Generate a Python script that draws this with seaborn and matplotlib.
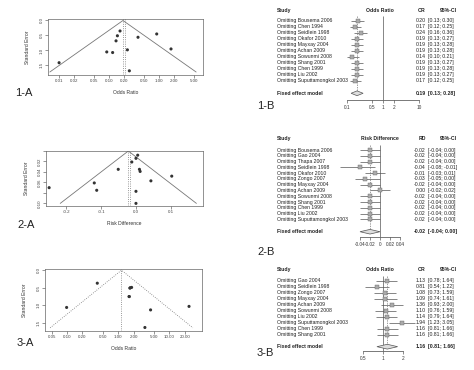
import numpy as np
import pandas as pd
import matplotlib
matplotlib.use('Agg')
import matplotlib.pyplot as plt
import matplotlib.transforms as mtrans
import seaborn as sns

sns.set_style('white')
plt.rcParams['font.family'] = ['Liberation Sans', 'DejaVu Sans']

W, H = 474, 370

# ---- funnel plot data ----
f1_or = [0.010, 0.090, 0.118, 0.138, 0.147, 0.166, 0.233, 0.255, 0.38, 0.90, 1.74]
f1_se = [1.41, 1.05, 1.07, 0.68, 0.51, 0.35, 0.98, 1.68, 0.56, 0.45, 0.95]
f1_fixed, f1_random = 0.19, 0.21

f2_rd = [-0.25, -0.12, -0.113, -0.051, -0.012, 0.0, 0.005, 0.01, 0.012, 0.043, 0.0, 0.0, 0.103]
f2_se = [0.070, 0.061, 0.075, 0.035, 0.021, 0.014, 0.008, 0.035, 0.039, 0.057, 0.077, 0.100, 0.048]
f2_fixed, f2_random = -0.022, -0.017

f3_or = [0.39, 0.098, 1.64, 1.69, 1.83, 4.3, 3.33, 24.3, 1.72, 1.64]
f3_se = [0.37, 1.06, 0.75, 0.51, 0.49, 1.13, 1.63, 1.03, 0.50, 0.75]
f3_fixed = 1.16

# ---- leave-one-out forest data ----
s1_names = ['Bousema 2006', 'Chen 1994', 'Seidlein 1998', 'Okafor 2010', 'Mayxay 2004',
            'Achan 2009', 'Sowunmi 2008', 'Shang 2001', 'Chen 1999', 'Liu 2002',
            'Suputtamongkol 2003']
s1_est = [0.20, 0.17, 0.24, 0.19, 0.19, 0.19, 0.14, 0.19, 0.19, 0.19, 0.17]
s1_lo = [0.13, 0.12, 0.16, 0.13, 0.13, 0.13, 0.10, 0.13, 0.13, 0.13, 0.12]
s1_hi = [0.30, 0.25, 0.36, 0.27, 0.28, 0.28, 0.21, 0.27, 0.28, 0.27, 0.25]
s1_fix = [0.19, 0.13, 0.28]

s2_names = ['Bousema 2006', 'Gao 2004', 'Thapa 2007', 'Seidlein 1998', 'Okafor 2010',
            'Zongo 2007', 'Mayxay 2004', 'Achan 2009', 'Sowunmi 2008', 'Shang 2001',
            'Chen 1999', 'Liu 2002', 'Suputtamongkol 2003']
s2_est = [-0.02, -0.02, -0.02, -0.04, -0.01, -0.03, -0.02, 0.00, -0.02, -0.02, -0.02, -0.02, -0.02]
s2_lo = [-0.04, -0.04, -0.04, -0.08, -0.03, -0.05, -0.04, -0.02, -0.04, -0.04, -0.04, -0.04, -0.04]
s2_hi = [0.00, 0.00, 0.00, -0.01, 0.01, 0.00, 0.00, 0.02, 0.00, 0.00, 0.00, 0.00, 0.00]
s2_fix = [-0.02, -0.04, 0.00]

s3_names = ['Gao 2004', 'Seidlein 1998', 'Zongo 2007', 'Mayxay 2004', 'Achan 2009',
            'Sowunmi 2008', 'Liu 2002', 'Suputtamongkol 2003', 'Chen 1999', 'Shang 2001']
s3_est = [1.13, 0.81, 1.08, 1.09, 1.36, 1.10, 1.14, 1.94, 1.16, 1.16]
s3_lo = [0.78, 0.54, 0.73, 0.74, 0.93, 0.76, 0.79, 1.23, 0.81, 0.81]
s3_hi = [1.64, 1.22, 1.59, 1.61, 2.00, 1.59, 1.64, 3.05, 1.66, 1.66]
s3_fix = [1.16, 0.81, 1.66]

fig = plt.figure(figsize=(W / 100, H / 100), dpi=100)


def rect(x0, y0, x1, y1):
    return [x0 / W, 1 - y1 / H, (x1 - x0) / W, (y1 - y0) / H]


def funnel(r, x, se, lines, apex, xlim, ylim, xticks, xlabs, yticks, ylabs, xlab, log, se_max, ls, ylpad):
    ax = fig.add_axes(r)
    if log:
        ax.set_xscale('log')
        lx = [apex * np.exp(-1.96 * se_max), apex, apex * np.exp(1.96 * se_max)]
    else:
        lx = [apex - 1.96 * se_max, apex, apex + 1.96 * se_max]
    ax.plot(lx, [se_max, 0, se_max], color='#777', lw=0.6, ls=ls)
    for v, st in lines:
        ax.axvline(v, color='#777', lw=0.6, ls=st)
    sns.scatterplot(x=x, y=se, s=5, color='#333', edgecolor='none', ax=ax, zorder=3)
    ax.set_xlim(xlim)
    ax.set_ylim(ylim)
    ax.set_xticks(xticks)
    ax.set_xticklabels(xlabs)
    ax.minorticks_off()
    ax.set_yticks(yticks)
    ax.set_yticklabels(ylabs, rotation=90, va='center')
    ax.tick_params(length=2, width=0.4, labelsize=3.2, pad=1.2, left=True, bottom=True, colors='#444')
    for s in ax.spines.values():
        s.set_linewidth(0.5)
        s.set_color('#666')
    ax.set_xlabel(xlab, fontsize=3.6, labelpad=4.5, color='#333')
    ax.set_ylabel('Standard Error', fontsize=3.6, labelpad=ylpad, color='#333')
    return ax


def forest(r, ylim, names, est, lo, hi, fix, fixrow, head_row, title, col, xlim, xticks, xlabs, bounds, ref, log):
    ax = fig.add_axes(r)
    if log:
        ax.set_xscale('log')
    rows = np.arange(len(names))
    ax.hlines(rows, lo, hi, color='#555', lw=0.5)
    df = pd.DataFrame({'est': est, 'row': rows})
    sns.scatterplot(data=df, x='est', y='row', marker='s', s=7, color='#aaa',
                    edgecolor='#666', linewidth=0.3, ax=ax, zorder=3)
    ax.fill([fix[1], fix[0], fix[2], fix[0]],
            [fixrow, fixrow - 0.4, fixrow, fixrow + 0.4],
            facecolor='#ddd', edgecolor='#555', lw=0.5, zorder=3)
    ax.vlines(ref, -0.8, ylim[0], color='#555', lw=0.5)
    ax.vlines(fix[0], -0.8, fixrow, color='#777', lw=0.5, ls=(0, (2, 1.5)))
    ax.set_xlim(xlim)
    ax.set_ylim(ylim)
    ax.set_xticks(xticks)
    ax.set_xticklabels(xlabs)
    ax.minorticks_off()
    ax.set_yticks([])
    ax.set_xlabel('')
    ax.set_ylabel('')
    for k in ['top', 'left', 'right']:
        ax.spines[k].set_visible(False)
    ax.spines['bottom'].set_bounds(bounds)
    ax.spines['bottom'].set_linewidth(0.5)
    ax.spines['bottom'].set_color('#444')
    ax.tick_params(axis='x', length=2, width=0.4, labelsize=3.4, pad=1.5, bottom=True, colors='#333')
    ax.patch.set_alpha(0)

    tr = mtrans.blended_transform_factory(fig.transFigure, ax.transData)
    kw = dict(transform=tr, fontsize=3.7, va='center', color='#222')
    ax.text(277 / W, head_row, 'Study', fontweight='bold', **kw)
    ax.text(380 / W, head_row, title, fontweight='bold', ha='center', **kw)
    ax.text(422 / W, head_row, col, fontweight='bold', ha='center', **kw)
    ax.text(448 / W, head_row, '95%-CI', fontweight='bold', ha='center', **kw)
    for i, nm in enumerate(names):
        ax.text(277 / W, i, 'Omitting ' + nm, **kw)
        ax.text(425.5 / W, i, '%.2f' % est[i], ha='right', **kw)
        ax.text(428.5 / W, i, '[%.2f; %.2f]' % (lo[i], hi[i]), **kw)
    ax.text(277 / W, fixrow, 'Fixed effect model', fontweight='bold', **kw)
    ax.text(425.5 / W, fixrow, '%.2f' % fix[0], ha='right', fontweight='bold', **kw)
    ax.text(428.5 / W, fixrow, '[%.2f; %.2f]' % (fix[1], fix[2]), fontweight='bold', **kw)
    return ax


# ---- left column: funnel plots ----
funnel(rect(48, 19, 203, 75), f1_or, f1_se, [(f1_fixed, ':'), (f1_random, ':')], f1_fixed,
       (0.006, 7.6), (1.82, -0.05),
       [0.01, 0.02, 0.05, 0.1, 0.2, 0.5, 1, 2, 5],
       ['0.01', '0.02', '0.05', '0.10', '0.20', '0.50', '1.00', '2.00', '5.00'],
       [0, 0.5, 1.0, 1.5], ['0.0', '0.5', '1.0', '1.5'], 'Odds Ratio', True, 1.72, '-', 7)

funnel(rect(46, 151, 203, 206), f2_rd, f2_se, [(f2_fixed, ':'), (f2_random, ':')], f2_fixed,
       (-0.259, 0.193), (0.105, 0.0),
       [-0.2, -0.1, 0.0, 0.1], ['-0.2', '-0.1', '0.0', '0.1'],
       [0.0, 0.02, 0.04, 0.06, 0.08, 0.10], ['', '0.02', '0.04', '0.06', '', '0.10'],
       'Risk Difference', False, 0.10, '-', 6)

funnel(rect(45, 269, 202, 331), f3_or, f3_se, [(f3_fixed, ':')], f3_fixed,
       (0.037, 43.6), (1.73, -0.034),
       [0.05, 0.1, 0.2, 0.5, 1, 2, 5, 10, 20],
       ['0.05', '0.10', '0.20', '0.50', '1.00', '2.00', '5.00', '10.00', '20.00'],
       [0, 0.5, 1.0, 1.5], ['0.0', '0.5', '1.0', '1.5'], 'Odds Ratio', True, 1.64, ':', 7)

# ---- right column: leave-one-out forest plots ----
# 1-B: rows 6 px apart starting at y=21
forest(rect(347, 21 - 2.5 * 6, 419, 100), (13.17, -2.5), s1_names, s1_est, s1_lo, s1_hi, s1_fix,
       12.05, -1.83, 'Odds Ratio', 'OR', (0.1, 10), [0.1, 0.5, 1, 2, 10],
       ['0.1', '0.5', '1', '2', '10'], (0.1, 10), 1, True)

# 2-B: rows 5.78 px apart starting at y=150
forest(rect(335, 150 - 2.8 * 5.78, 405, 236.7), (14.99, -2.8), s2_names, s2_est, s2_lo, s2_hi, s2_fix,
       14.13, -2.02, 'Risk Difference', 'RD', (-0.09, 0.05), [-0.04, -0.02, 0, 0.02, 0.04],
       ['-0.04', '-0.02', '0', '0.02', '0.04'], (-0.04, 0.04), 0, False)

# 3-B: rows 6 px apart starting at y=281
forest(rect(356.6, 281 - 2.6 * 6, 419.1, 351), (11.67, -2.6), s3_names, s3_est, s3_lo, s3_hi, s3_fix,
       10.95, -1.95, 'Odds Ratio', 'OR', (0.4, 3.5), [0.5, 1, 2],
       ['0.5', '1', '2'], (0.5, 2), 1, True)

# panel labels
for lab, x, y in [('1-A', 15, 93), ('2-A', 17, 225), ('3-A', 17, 343),
                  ('1-B', 257, 106), ('2-B', 257, 252), ('3-B', 257, 353)]:
    fig.text(x / W, 1 - y / H, lab, fontsize=8, va='center', color='#222')

fig.savefig('out.png', dpi=100, facecolor='white')
